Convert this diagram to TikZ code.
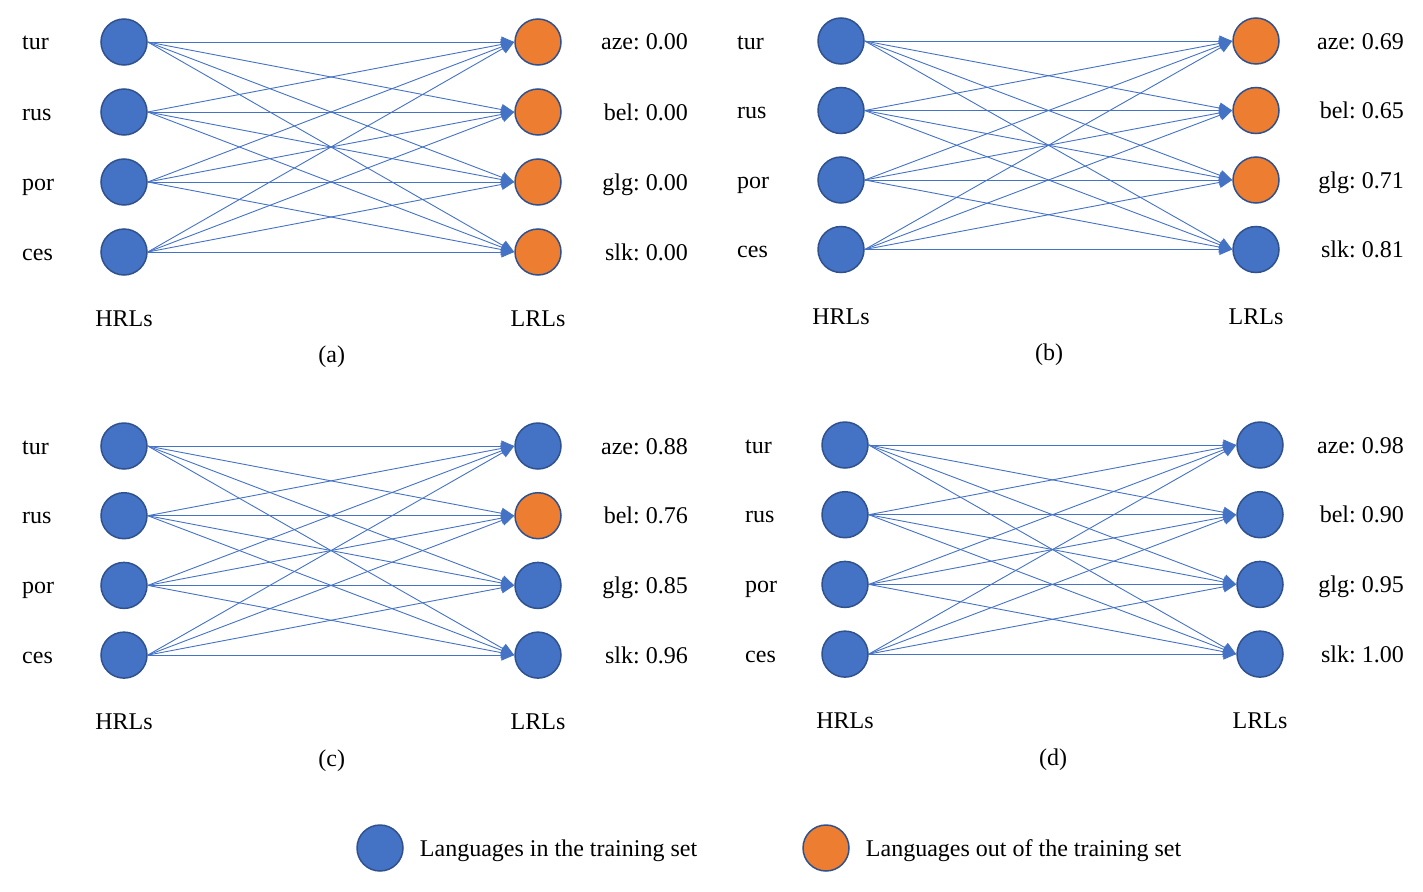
\documentclass[tikz,border=0pt]{standalone}
\usepackage{fontspec}
\setmainfont{Liberation Serif}
\usetikzlibrary{positioning,arrows.meta}
\frenchspacing

\definecolor{inblue}{HTML}{4472C4}
\definecolor{outorange}{HTML}{ED7D31}
\definecolor{rimblue}{HTML}{2F528F}

\tikzset{
	lang/.style={circle, draw=rimblue, line width=1.5pt, minimum size=46pt, inner sep=0pt},
	intrain/.style={lang, fill=inblue},
	outtrain/.style={lang, fill=outorange},
	link/.style={draw=inblue, line width=0.9pt, -{Triangle[length=13pt, width=11pt]}},
	txt/.style={font=\fontsize{24}{28}\selectfont, inner sep=0pt},
}

\begin{document}
\begin{tikzpicture}[x=1pt, y=-1pt]
	\useasboundingbox (0,0) rectangle (1423,891);
	
	% (a)
	\foreach \h/\l/\v/\s [count=\i from 0] in {tur/aze/0.00/outtrain, rus/bel/0.00/outtrain, por/glg/0.00/outtrain, ces/slk/0.00/outtrain} {
		\node[intrain] (a-\h) at (124, 42+70*\i) {};
		\node[\s] (a-\l) at (538, 42+70*\i) {};
		\node[txt, anchor=base west] (a-\h-t) at (22, 50+70*\i) {\h};
		\node[txt, anchor=base east] (a-\l-t) at (688, 50+70*\i) {\l: \v};
	}
	\foreach \h in {tur,rus,por,ces}
		\foreach \l in {aze,bel,glg,slk}
			\draw[link] (a-\h.east) -- (a-\l.west);
	\node[txt, below=35pt of a-ces] (a-H) {HRLs};
	\node[txt, below=35pt of a-slk] (a-L) {LRLs};
	\path (a-H) -- (a-L) coordinate[midway] (a-mid);
	\node[txt] (a-cap) at ([yshift=-38pt]a-mid) {(a)};
	
	% (b)
	\foreach \h/\l/\v/\s [count=\i from 0] in {tur/aze/0.69/outtrain, rus/bel/0.65/outtrain, por/glg/0.71/outtrain, ces/slk/0.81/intrain} {
		\node[intrain] (b-\h) at (841, 41+69.5*\i) {};
		\node[\s] (b-\l) at (1256, 41+69.5*\i) {};
		\node[txt, anchor=base west] (b-\h-t) at (737, 49+69.5*\i) {\h};
		\node[txt, anchor=base east] (b-\l-t) at (1404, 49+69.5*\i) {\l: \v};
	}
	\foreach \h in {tur,rus,por,ces}
		\foreach \l in {aze,bel,glg,slk}
			\draw[link] (b-\h.east) -- (b-\l.west);
	\node[txt, below=35pt of b-ces] (b-H) {HRLs};
	\node[txt, below=35pt of b-slk] (b-L) {LRLs};
	\path (b-H) -- (b-L) coordinate[midway] (b-mid);
	\node[txt] (b-cap) at ([yshift=-38pt]b-mid) {(b)};
	
	% (c)
	\foreach \h/\l/\v/\s [count=\i from 0] in {tur/aze/0.88/intrain, rus/bel/0.76/outtrain, por/glg/0.85/intrain, ces/slk/0.96/intrain} {
		\node[intrain] (c-\h) at (124, 446+69.7*\i) {};
		\node[\s] (c-\l) at (538, 446+69.7*\i) {};
		\node[txt, anchor=base west] (c-\h-t) at (22, 454+69.7*\i) {\h};
		\node[txt, anchor=base east] (c-\l-t) at (688, 454+69.7*\i) {\l: \v};
	}
	\foreach \h in {tur,rus,por,ces}
		\foreach \l in {aze,bel,glg,slk}
			\draw[link] (c-\h.east) -- (c-\l.west);
	\node[txt, below=35pt of c-ces] (c-H) {HRLs};
	\node[txt, below=35pt of c-slk] (c-L) {LRLs};
	\path (c-H) -- (c-L) coordinate[midway] (c-mid);
	\node[txt] (c-cap) at ([yshift=-39pt]c-mid) {(c)};
	
	% (d)
	\foreach \h/\l/\v/\s [count=\i from 0] in {tur/aze/0.98/intrain, rus/bel/0.90/intrain, por/glg/0.95/intrain, ces/slk/1.00/intrain} {
		\node[intrain] (d-\h) at (845, 445+69.7*\i) {};
		\node[\s] (d-\l) at (1260, 445+69.7*\i) {};
		\node[txt, anchor=base west] (d-\h-t) at (745, 453+69.7*\i) {\h};
		\node[txt, anchor=base east] (d-\l-t) at (1404, 453+69.7*\i) {\l: \v};
	}
	\foreach \h in {tur,rus,por,ces}
		\foreach \l in {aze,bel,glg,slk}
			\draw[link] (d-\h.east) -- (d-\l.west);
	\node[txt, below=35pt of d-ces] (d-H) {HRLs};
	\node[txt, below=35pt of d-slk] (d-L) {LRLs};
	\path (d-H) -- (d-L) coordinate[midway] (d-mid);
	\node[txt] (d-cap) at ([yshift=-39pt]d-mid) {(d)};
	
	% legend
	\node[intrain] (key-in) at (380, 848) {};
	\node[txt, right=16pt of key-in, yshift=-3pt] (key-in-t) {Languages in the training set};
	\node[outtrain] (key-out) at (826, 848) {};
	\node[txt, right=16pt of key-out, yshift=-3pt] (key-out-t) {Languages out of the training set};
\end{tikzpicture}
\end{document}
